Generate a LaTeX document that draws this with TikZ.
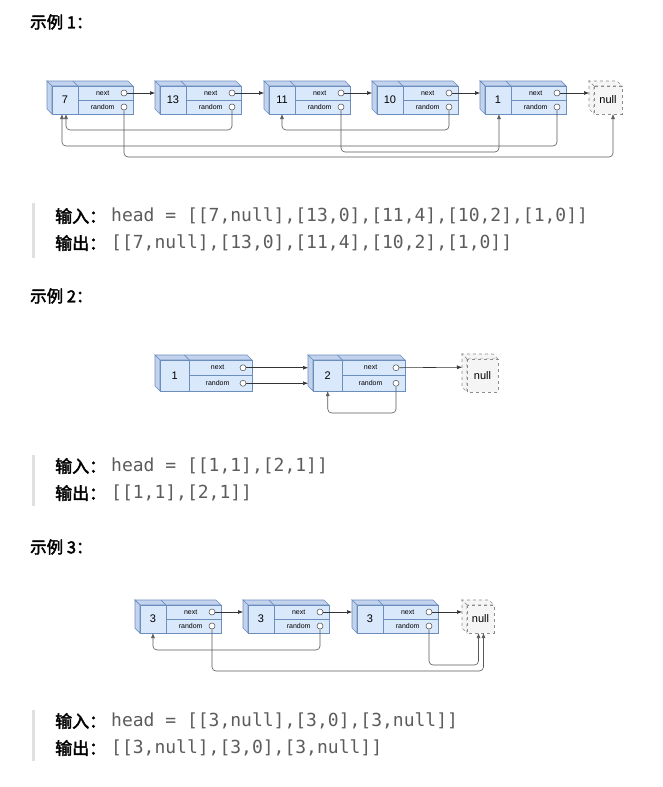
\documentclass[tikz,border=0pt]{standalone}
\usepackage{fontspec}
\setmainfont{Liberation Sans}
\newfontfamily\cjk{Noto Sans CJK SC}[AutoFakeBold=2.5]
\newfontfamily\mono{DejaVu Sans Mono}
\usetikzlibrary{arrows.meta,calc}
\definecolor{nfill}{HTML}{DAE8FC}
\definecolor{nside}{HTML}{C3D3EE}
\definecolor{nline}{HTML}{6C8EBF}
\definecolor{txtg}{HTML}{5C5C5C}
\tikzset{
  face/.style={draw=nline,fill=nfill,line width=0.7pt},
  side/.style={draw=nline,fill=nside,line width=0.7pt},
  dot/.style={circle,draw=black!70,fill=white,inner sep=0pt,minimum size=6pt,line width=0.5pt},
  nxt/.style={draw=black!80,line width=0.6pt,-{Latex[length=5pt,width=4pt]}},
  rnd/.style={draw=black!65,line width=0.6pt,rounded corners=4pt,-{Latex[length=5pt,width=4pt]}},
  lab/.style={font=\fontsize{7}{8}\selectfont,inner sep=0pt},
  hdr/.style={font=\cjk\bfseries\fontsize{16.5}{18}\selectfont,anchor=west,inner sep=0pt},
  io/.style={font=\cjk\bfseries\fontsize{17}{19}\selectfont,anchor=west,inner sep=0pt},
  code/.style={font=\mono\fontsize{18}{20}\selectfont,text=txtg,anchor=west,inner sep=0pt},
  bar/.style={fill=black!12,draw=none},
  nullbox/.style={draw=black!45,dashed,fill=black!4,line width=0.6pt},
}
% #1 name, #2 x, #3 y, #4 w, #5 h, #6 value
\newcommand\lnode[6]{%
  \pgfmathsetmacro\vw{0.32*#4}%
  \path[side] (#2,#3) -- ++(-5,-5) -- ++(#4,0) -- ++(5,5) -- cycle;
  \path[side] (#2,#3) -- ++(-5,-5) -- ++(0,#5) -- ++(5,5) -- cycle;
  \draw[nline,line width=0.7pt] ({#2+\vw},#3) -- ++(-5,-5);
  \path[face] (#2,#3) rectangle ++(#4,#5);
  \draw[nline,line width=0.7pt] ({#2+\vw},#3) -- ++(0,#5);
  \draw[nline,line width=0.7pt] ({#2+\vw},{#3+#5/2}) -- ({#2+#4},{#3+#5/2});
  \node[font=\fontsize{11}{12}\selectfont,inner sep=0pt] (#1v) at ({#2+\vw/2},{#3+#5/2}) {#6};
  \node[lab] (#1nt) at ({#2+\vw+0.45*(#4-\vw)},{#3+#5/4}) {next};
  \node[lab] (#1rt) at ({#2+\vw+0.45*(#4-\vw)},{#3+3*#5/4}) {random};
  \node[dot] (#1n) at ({#2+#4-9},{#3+#5/4}) {};
  \node[dot] (#1r) at ({#2+#4-9},{#3+3*#5/4}) {};
  \coordinate (#1in) at ({#2-5},{#3+#5/4});
  \coordinate (#1b) at ({#2+\vw/2},{#3+#5});
}
% #1 name, #2 x, #3 y, #4 w, #5 h
\newcommand\nullnode[5]{%
  \path[nullbox] (#2,#3) -- ++(-5,-5) -- ++(#4,0) -- ++(5,5) -- cycle;
  \path[nullbox] (#2,#3) -- ++(-5,-5) -- ++(0,#5) -- ++(5,5) -- cycle;
  \path[nullbox] (#2,#3) rectangle ++(#4,#5);
  \node[font=\fontsize{11}{12}\selectfont,inner sep=0pt] (#1) at ({#2+#4/2},{#3+#5/2}) {null};
  \coordinate (#1in) at ({#2-5},{#3+#5/4});
  \coordinate (#1b) at ({#2+#4/2},{#3+#5});
}
\begin{document}
\begin{tikzpicture}[x=1pt,y=-1pt]
\useasboundingbox[fill=white] (0,0) rectangle (662,787);
% ---------- example 1 ----------
\node[hdr] (h1) at (30,22) {示例 1：};
\lnode{a}{52}{86}{81}{28}{7}
\lnode{b}{160}{86}{81}{28}{13}
\lnode{c}{269}{86}{81}{28}{11}
\lnode{d}{377}{86}{81}{28}{10}
\lnode{e}{485}{86}{81}{28}{1}
\nullnode{ne}{594}{86}{28}{28}
\draw[nxt] (an) -- (bin);
\draw[nxt] (bn) -- (cin);
\draw[nxt] (cn) -- (din);
\draw[nxt] (dn) -- (ein);
\draw[nxt] (en) -- (nein);
\draw[rnd] (br) -- (br |- 0,130) -| ($(ab)+(1,0)$);
\draw[rnd] (er) -- (er |- 0,146) -| ($(ab)+(-3,0)$);
\draw[rnd] (ar) -- (ar |- 0,157) -| ($(neb)+(5,0)$);
\draw[rnd] (dr) -- (dr |- 0,130) -| (cb);
\draw[rnd] (cr) -- (cr |- 0,152) -| ($(eb)+(1,0)$);
\path[bar] (32,203) rectangle (35,258);
\node[io] (i1) at (55,216) {输入：};
\node[code] (c1) at (111,216) {head = [[7,null],[13,0],[11,4],[10,2],[1,0]]};
\node[io] (o1) at (55,243) {输出：};
\node[code] (d1) at (111,243) {[[7,null],[13,0],[11,4],[10,2],[1,0]]};
% ---------- example 2 ----------
\node[hdr] (h2) at (30,296) {示例 2：};
\lnode{f}{160}{360}{92}{31}{1}
\lnode{g}{313}{360}{92}{31}{2}
\nullnode{ng}{467}{359}{31}{33}
\draw[nxt] (fn) -- (gin);
\draw[nxt] (fr) -- (fr -| gin);
\draw[nxt] (gn) -- (ngin);
\draw[rnd] (gr) -- (gr |- 0,413) -| (gb);
\path[bar] (32,455) rectangle (35,506);
\node[io] (i2) at (55,466) {输入：};
\node[code] (c2) at (111,466) {head = [[1,1],[2,1]]};
\node[io] (o2) at (55,493) {输出：};
\node[code] (d2) at (111,493) {[[1,1],[2,1]]};
% ---------- example 3 ----------
\node[hdr] (h3) at (30,547) {示例 3：};
\lnode{p}{140}{605}{81}{28}{3}
\lnode{q}{248}{605}{81}{28}{3}
\lnode{r}{357}{605}{81}{28}{3}
\nullnode{nr}{467}{605}{27}{28}
\draw[nxt] (pn) -- (qin);
\draw[nxt] (qn) -- (rin);
\draw[nxt] (rn) -- (nrin);
\draw[rnd] (qr) -- (qr |- 0,650) -| (pb);
\draw[rnd] (pr) -- (pr |- 0,671) -| ($(nrb)+(3,0)$);
\draw[rnd] (rr) -- (rr |- 0,665) -| ($(nrb)+(-2,0)$);
\path[bar] (32,710) rectangle (35,761);
\node[io] (i3) at (55,721) {输入：};
\node[code] (c3) at (111,721) {head = [[3,null],[3,0],[3,null]]};
\node[io] (o3) at (55,748) {输出：};
\node[code] (d3) at (111,748) {[[3,null],[3,0],[3,null]]};
\end{tikzpicture}
\end{document}
